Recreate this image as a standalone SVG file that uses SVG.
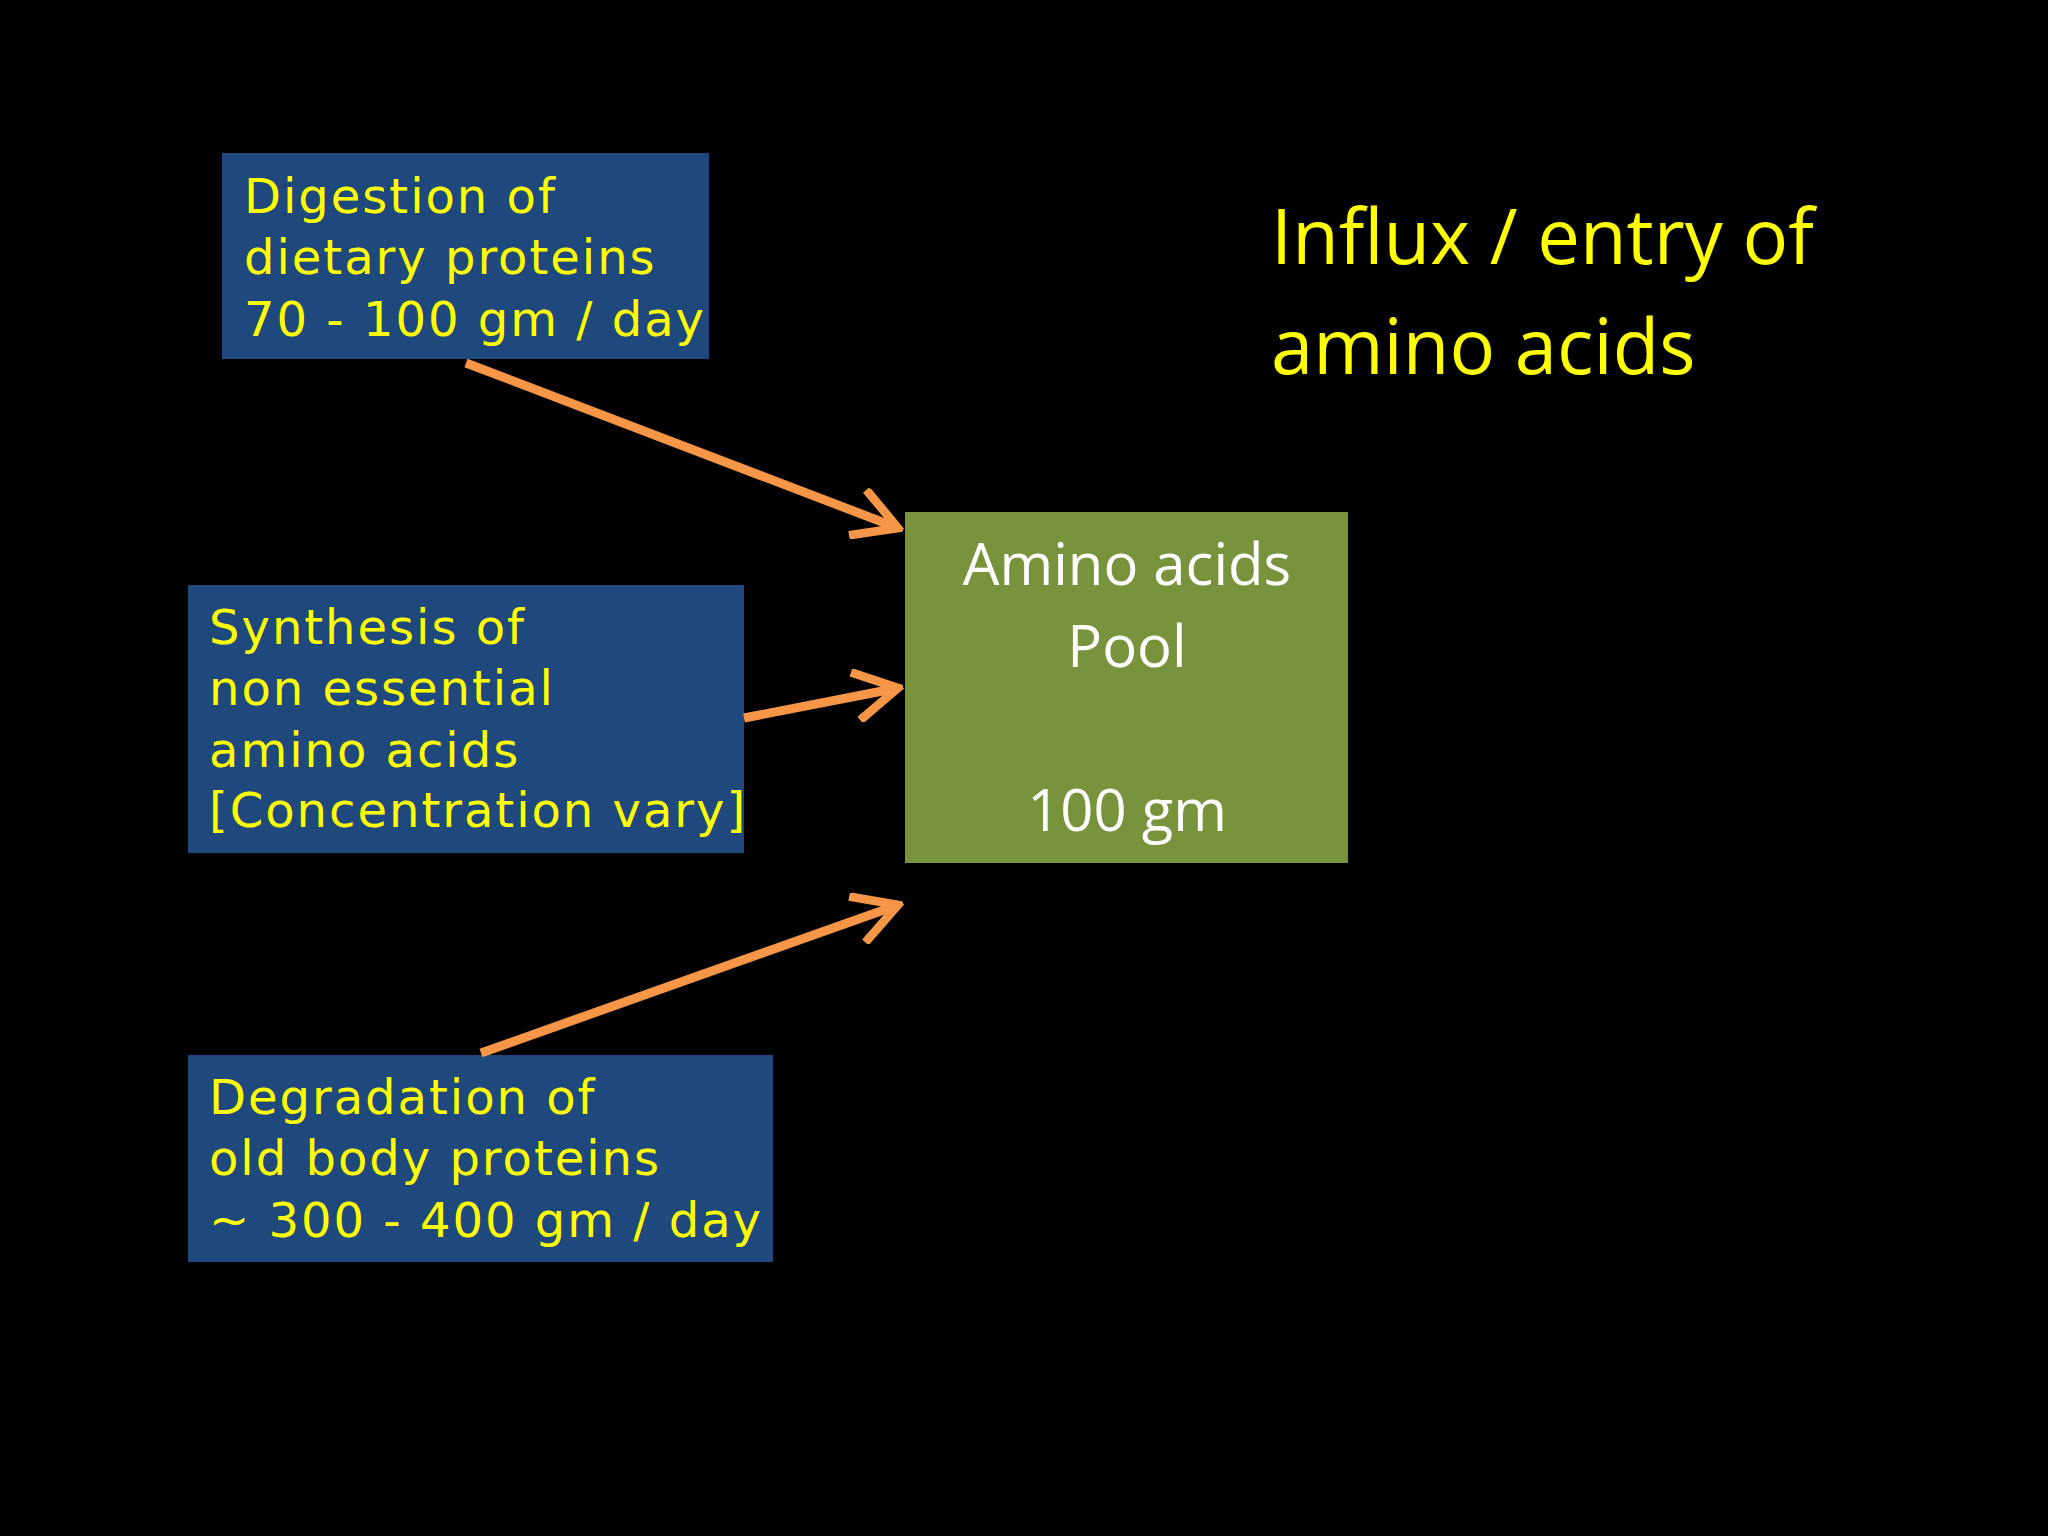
<svg xmlns="http://www.w3.org/2000/svg" width="2048" height="1536" viewBox="0 0 2048 1536">
<style>
.box{fill:#1F497D}
.t{font-family:"DejaVu Sans","Noto Sans",sans-serif;font-size:48px;fill:#FFFF00;letter-spacing:2px}
.g{font-family:"Open Sans","Liberation Sans",sans-serif;font-size:58px;fill:#FFFFFF;text-anchor:middle}
.ttl{font-family:"Open Sans","Liberation Sans",sans-serif;font-size:76px;fill:#FFFF00}
.c{stroke:#F79646;stroke-width:9;fill:none;marker-end:url(#ah)}
</style>
<defs>
<marker id="ah" viewBox="0 0 10 10" refX="9" refY="5" markerWidth="6" markerHeight="6" orient="auto" markerUnits="strokeWidth">
<path d="M1,0.5 L9,5 L1,9.5" fill="none" stroke="#F79646" stroke-width="1.6"/>
</marker>
</defs>
<rect width="2048" height="1536" fill="#000"/>
<g id="title">
<text class="ttl" x="1271" y="264">Influx  / entry  of</text>
<text class="ttl" x="1271" y="374">amino  acids</text>
</g>
<g id="n1"><rect class="box" x="222" y="153" width="487" height="206"/>
<text class="t" x="244" y="213">Digestion  of</text>
<text class="t" x="244" y="274">dietary  proteins</text>
<text class="t" x="244" y="336">70  -  100 gm / day</text></g>
<g id="n2"><rect class="box" x="188" y="585" width="556" height="268"/>
<text class="t" x="209" y="644">Synthesis  of</text>
<text class="t" x="209" y="705">non essential</text>
<text class="t" x="209" y="767">amino  acids</text>
<text class="t" x="209" y="827">[Concentration  vary]</text></g>
<g id="n3"><rect class="box" x="188" y="1055" width="585" height="207"/>
<text class="t" x="209" y="1114">Degradation  of</text>
<text class="t" x="209" y="1175">old  body  proteins</text>
<text class="t" x="209" y="1237">~ 300  -  400  gm / day</text></g>
<g id="pool"><rect x="905" y="512" width="443" height="351" fill="#77933C"/>
<text class="g" x="1127" y="585">Amino  acids</text>
<text class="g" x="1127" y="667">Pool</text>
<text class="g" x="1127" y="831">100 gm</text></g>
<g id="connectors">
<line class="c" x1="466" y1="363" x2="898" y2="528"/>
<line class="c" x1="744" y1="718" x2="898" y2="688"/>
<line class="c" x1="481" y1="1053" x2="898" y2="905"/>
</g>
</svg>
